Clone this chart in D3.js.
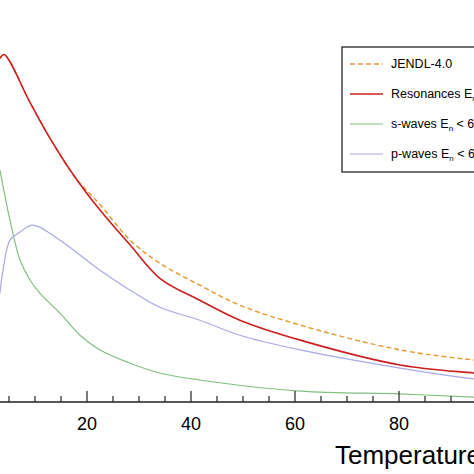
<!DOCTYPE html>
<html>
<head>
  <meta charset="UTF-8" />
  <script src="https://d3js.org/d3.v7.min.js"></script>
  <style>body{margin:0;background:#fff;} text{font-family:"Liberation Sans",Arial,sans-serif;}</style>
</head>
<body>
  <script>
    // temperature values (x) and curves (arbitrary cross-section units)
    var jendlX = [3.27, 4.04, 9.04, 12.9, 17.7, 22.5, 28.3, 34.0, 41.7, 49.4, 61, 80.2, 94.4, 100];
    var jendlY = [98.3, 99.4, 85.7, 75.4, 64.3, 56.5, 46.3, 39.7, 33.4, 27.7, 22.0, 14.9, 12.0, 11.2];
    var resX = [3.27, 4.04, 9.04, 12.9, 17.7, 22.5, 28.3, 34.0, 41.7, 49.4, 61, 80.2, 94.4, 100];
    var resY = [98.3, 99.4, 85.7, 75.4, 64.3, 54.9, 44.9, 35.4, 29.1, 23.4, 17.7, 10.6, 8.3, 7.6];
    var sX = [3.27, 4.2, 5.19, 7.12, 9.04, 10.96, 14.8, 18.65, 22.5, 28.3, 34.0, 41.7, 61, 80.2, 94.4, 100];
    var sY = [66.3, 59.1, 52.0, 40.6, 34.9, 31.1, 25.4, 19.1, 14.9, 11.1, 8.3, 6.3, 3.1, 2.3, 1.4, 1.2];
    var pX = [3.27, 3.85, 5.19, 7.12, 9.6, 14.8, 22.5, 28.3, 34.0, 41.7, 49.4, 61, 80.2, 94.4, 100];
    var pY = [31.1, 37.7, 46.3, 48.6, 50.6, 46.3, 37.7, 32.0, 27.1, 23.4, 19.1, 14.9, 9.7, 6.6, 5.8];
    var xTicks = [20, 40, 60, 80];
    var legendLabels = ["JENDL-4.0", "Resonances E", "s-waves E", "p-waves E"];

    var W = 474, H = 474;
    var svg = d3.select("body").append("svg").attr("width", W).attr("height", H);

    var x = d3.scaleLinear().domain([0, 100]).range([-17, 503]);
    var y = d3.scaleLinear().domain([0, 115]).range([402, 0]);

    var series = [
      { xs: jendlX, ys: jendlY, color: "#e8962a", dash: "5,3", w: 1.4 },
      { xs: resX, ys: resY, color: "#cc1f1f", dash: null, w: 1.6 },
      { xs: sX, ys: sY, color: "#80c080", dash: null, w: 1.2 },
      { xs: pX, ys: pY, color: "#a8a8ea", dash: null, w: 1.2 }
    ];

    var line = d3.line().x(function (d) { return x(d[0]); }).y(function (d) { return y(d[1]); })
      .curve(d3.curveCatmullRom.alpha(0.5));

    series.forEach(function (s) {
      svg.append("path")
        .attr("d", line(d3.zip(s.xs, s.ys)))
        .attr("fill", "none")
        .attr("stroke", s.color)
        .attr("stroke-width", s.w)
        .attr("stroke-dasharray", s.dash);
    });

    // x axis
    var ax = svg.append("g").attr("transform", "translate(0,402)");
    ax.append("line").attr("x1", 0).attr("x2", W).attr("stroke", "#222").attr("stroke-width", 1.5);
    d3.range(5, 100, 5).forEach(function (t) {
      var major = t % 20 === 0;
      ax.append("line").attr("x1", x(t)).attr("x2", x(t))
        .attr("y1", 0).attr("y2", major ? -11 : -6).attr("stroke", "#222").attr("stroke-width", 1.2);
    });
    xTicks.forEach(function (t) {
      ax.append("text").attr("x", x(t)).attr("y", 28).attr("text-anchor", "middle")
        .attr("font-size", 18).text(t);
    });
    svg.append("text").attr("x", 335).attr("y", 464).attr("font-size", 26).text("Temperature");

    // legend
    var lg = svg.append("g");
    lg.append("rect").attr("x", 342).attr("y", 47).attr("width", 140).attr("height", 125)
      .attr("fill", "#fff").attr("stroke", "#111").attr("stroke-width", 1.2);
    var sub = ["", "", "n", "n"];
    var tail = ["", "", " < 6", " < 6"];
    legendLabels.forEach(function (l, i) {
      var yy = 64 + i * 30;
      lg.append("line").attr("x1", 350).attr("x2", 383).attr("y1", yy).attr("y2", yy)
        .attr("stroke", series[i].color).attr("stroke-width", series[i].w)
        .attr("stroke-dasharray", series[i].dash);
      var t = lg.append("text").attr("x", 391).attr("y", yy + 4).attr("font-size", 12.5);
      t.append("tspan").text(l);
      if (i === 1) t.append("tspan").attr("dy", 3).attr("font-size", 8).text("n");
      if (sub[i]) {
        t.append("tspan").attr("dy", 3).attr("font-size", 8).text(sub[i]);
        t.append("tspan").attr("dy", -3).text(tail[i]);
      }
    });
  </script>
</body>
</html>
